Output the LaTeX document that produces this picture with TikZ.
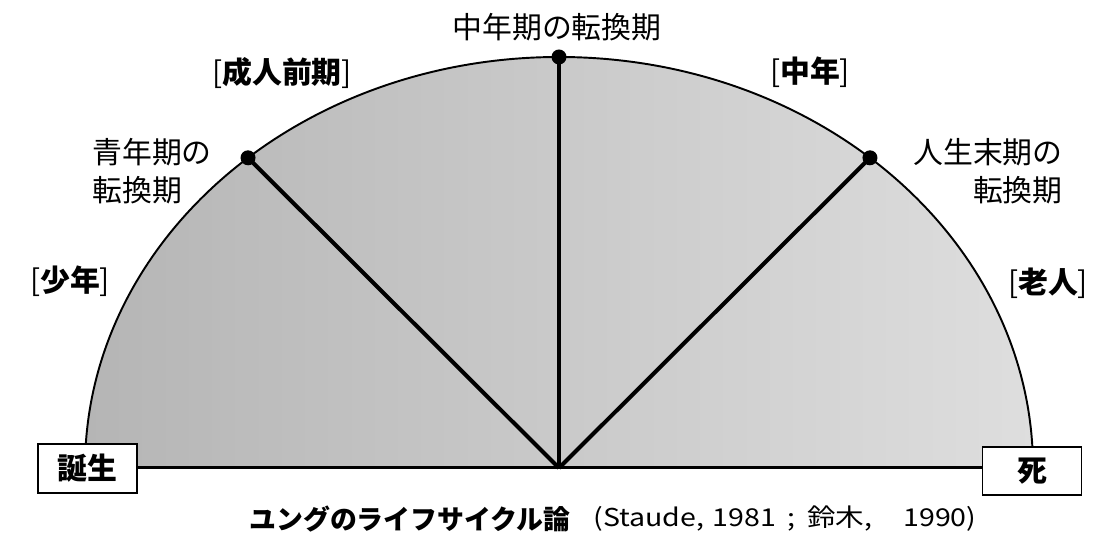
\documentclass[tikz,border=0pt]{standalone}
\usepackage{fontspec}
\usepackage{tikz}
\newfontfamily\jp{Noto Sans CJK JP}

\tikzset{
  lab/.style={font=\jp\fontsize{17}{21.5}\selectfont, inner sep=0pt},
  stagebox/.style={draw, line width=1.1pt, fill=white, minimum width=1.98cm, minimum height=0.97cm, inner sep=0pt, font=\jp\bfseries\fontsize{17}{21}\selectfont},
  turndot/.style={circle, fill=black, minimum size=0.3cm, inner sep=0pt},
}

\begin{document}
\begin{tikzpicture}
\useasboundingbox (0,0) rectangle (22.36,10.8);
\coordinate (O) at (11.18,1.44);
% half of the life, filled
\fill[left color=gray!58, right color=gray!26] (O) ++(-9.48,0) arc[start angle=180, end angle=0, x radius=9.48, y radius=8.22] -- cycle;
\draw[line width=1.1pt] (O) ++(-9.48,0) arc[start angle=180, end angle=0, x radius=9.48, y radius=8.22];
\path (O) ++(131:9.48 and 8.22) coordinate (youth);
\path (O) ++(90:9.48 and 8.22) coordinate (midlife);
\path (O) ++(49:9.48 and 8.22) coordinate (old);
\draw[line width=2.3pt] (O) -- (youth);
\draw[line width=2.3pt] (O) -- (midlife);
\draw[line width=2.3pt] (O) -- (old);
\node[turndot] (dy) at (youth) {};
\node[turndot] (dm) at (midlife) {};
\node[turndot] (do) at (old) {};

\node[stagebox] (birth) at (1.75,1.43) {誕生};
\node[stagebox] (death) at (20.64,1.38) {死};
\draw[line width=1.7pt] (birth.east |- O) -- (death.west |- O);

% labels
\node[lab] (tmid) at (11.14,10.26) {中年期の転換期};
\node[lab, anchor=west, align=left] (tyouth) at (1.84,7.38) {青年期の\\転換期};
\node[lab, anchor=east, align=right] (told) at (21.26,7.38) {人生末期の\\転換期};
\node[lab] (adult) at (5.64,9.34) {[{\bfseries 成人前期}]};
\node[lab] (middle) at (16.2,9.36) {[{\bfseries 中年}]};
\node[lab] (child) at (1.40,5.18) {[{\bfseries 少年}]};
\node[lab] (elder) at (20.96,5.14) {[{\bfseries 老人}]};

\node[inner sep=0pt, font=\jp\bfseries\fontsize{15.3}{18}\selectfont] (title) at (8.20,0.42) {ユングのライフサイクル論};
\node[inner sep=0pt, font=\jp\fontsize{14}{17}\selectfont] (cite) at (15.70,0.42) {\scalebox{1.16}[1]{(Staude,\hspace{0.3em}1981\hspace{0.4em};\hspace{0.4em}鈴木,\hspace{1.1em}1990)}};
\end{tikzpicture}
\end{document}
